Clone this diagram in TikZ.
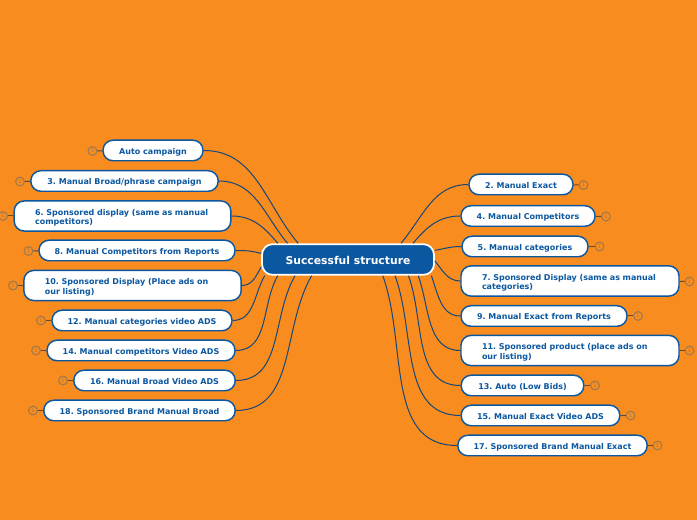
\documentclass[tikz,border=0pt]{standalone}
\usepackage{fontspec}
\setmainfont{DejaVu Sans}
\definecolor{bgorange}{HTML}{F98C1F}
\definecolor{mapblue}{HTML}{0B57A0}
\definecolor{badgegray}{HTML}{A0794C}
\tikzset{
  leaf/.style={draw=mapblue, line width=1.1pt, fill=white, rounded corners=7.5pt, inner sep=0pt, minimum height=15.4pt, text=mapblue, font=\bfseries\frenchspacing\fontsize{6}{7.4}\selectfont, text height=5.9pt, text depth=0.3pt, align=center},
  longleaf/.style={leaf, minimum height=22.6pt, align=left, inner xsep=15.75pt, text width=#1, text height=7.4pt, text depth=8.4pt},
  root/.style={draw=white, line width=1.3pt, fill=mapblue, rounded corners=8pt, inner sep=0pt, minimum width=129pt, minimum height=23pt, text=white, font=\bfseries\fontsize{8.1}{9}\selectfont, text height=7.2pt, text depth=0.2pt},
  badge/.style={circle, draw=badgegray, line width=0.8pt, inner sep=0pt, minimum size=6.6pt, text=badgegray, font=\fontsize{3.8}{4}\selectfont},
  link/.style={draw=mapblue!75!black!90!gray, line width=0.75pt},
  stub/.style={draw=badgegray!60!black, line width=0.75pt}
}
\begin{document}
\begin{tikzpicture}[x=0.75pt,y=-0.75pt]
\fill[bgorange] (0,0) rectangle (697,520);
\useasboundingbox (0,0) rectangle (697,520);
\node[root] (root) at (348,259.5){Successful structure};
% left side
\node[leaf, minimum width=75pt] (tid1) at (153,150.5){Auto campaign};
\node[leaf, minimum width=140.5pt] (tid3) at (124.5,181){3. Manual Broad/phrase campaign};
\node[longleaf=131pt] (tid6) at (122.5,216){6. Sponsored display (same as manual\\[-0.7pt]competitors)};
\node[leaf, minimum width=147pt] (tid8) at (137,250.5){8. Manual Competitors from Reports};
\node[longleaf=131.5pt] (tid10) at (132.5,285.5){10. Sponsored Display (Place ads on\\our listing)};
\node[leaf, minimum width=135pt] (tid12) at (142,320.5){12. Manual categories video ADS};
\node[leaf, minimum width=141pt] (tid14) at (141,350.5){14. Manual competitors Video ADS};
\node[leaf, minimum width=121pt] (tid16) at (154.5,380.5){16. Manual Broad Video ADS};
\node[leaf, minimum width=143.5pt] (tid18) at (139.5,410.5){18. Sponsored Brand Manual Broad};
% right side
\node[leaf, minimum width=78pt] (tid2) at (521,184.5){2. Manual Exact};
\node[leaf, minimum width=100.5pt] (tid4) at (528,216){4. Manual Competitors};
\node[leaf, minimum width=94.5pt] (tid5) at (525,246.5){5. Manual categories};
\node[longleaf=132pt] (tid7) at (570,281){7. Sponsored Display (same as manual\\[-0.7pt]categories)};
\node[leaf, minimum width=124.5pt] (tid9) at (544,316){9. Manual Exact from Reports};
\node[longleaf=132pt] (tid11) at (570,350.5){11. Sponsored product (place ads on\\our listing)};
\node[leaf, minimum width=92pt] (tid13) at (522.5,385.5){13. Auto (Low Bids)};
\node[leaf, minimum width=119pt] (tid15) at (540.5,415.5){15. Manual Exact Video ADS};
\node[leaf, minimum width=142pt] (tid17) at (552.5,445.5){17. Sponsored Brand Manual Exact};
% badges
\node[badge] (bad1) at (92.5,151){1};
\node[badge] (bad3) at (20,181.5){1};
\node[badge] (bad6) at (3,216){1};
\node[badge] (bad8) at (28.5,251){1};
\node[badge] (bad10) at (13,285.5){1};
\node[badge] (bad12) at (41,320.5){1};
\node[badge] (bad14) at (36,350.5){1};
\node[badge] (bad16) at (63,380.5){1};
\node[badge] (bad18) at (33,410.5){1};
\node[badge] (bad2) at (583.5,185){1};
\node[badge] (bad4) at (606,216.5){1};
\node[badge] (bad5) at (599.5,246.5){1};
\node[badge] (bad7) at (689.5,281.5){1};
\node[badge] (bad9) at (638,316){1};
\node[badge] (bad11) at (689.5,350.5){1};
\node[badge] (bad13) at (595,385.5){1};
\node[badge] (bad15) at (630.5,415.5){1};
\node[badge] (bad17) at (657.5,445.5){1};
\draw[stub](tid1) -- (bad1);
\draw[stub](tid3) -- (bad3);
\draw[stub](tid6) -- (bad6);
\draw[stub](tid8) -- (bad8);
\draw[stub](tid10) -- (bad10);
\draw[stub](tid12) -- (bad12);
\draw[stub](tid14) -- (bad14);
\draw[stub](tid16) -- (bad16);
\draw[stub](tid18) -- (bad18);
\draw[stub](tid2) -- (bad2);
\draw[stub](tid4) -- (bad4);
\draw[stub](tid5) -- (bad5);
\draw[stub](tid7) -- (bad7);
\draw[stub](tid9) -- (bad9);
\draw[stub](tid11) -- (bad11);
\draw[stub](tid13) -- (bad13);
\draw[stub](tid15) -- (bad15);
\draw[stub](tid17) -- (bad17);
% links to the root
\draw[link](tid1.east) to[out=0,in=130,looseness=1.0] (root.162);
\draw[link](tid3.east) to[out=0,in=130,looseness=1.0] (root.165);
\draw[link](tid6.east) to[out=0,in=130,looseness=1.0] (root.167.6);
\draw[link](tid8.east) to[out=0,in=165] (root.176);
\draw[link](tid10.east) to[out=0,in=240] (root.185.7);
\draw[link](tid12.east) to[out=0,in=240] (root.191.4);
\draw[link](tid14.east) to[out=0,in=240] (root.193.8);
\draw[link](tid16.east) to[out=0,in=240] (root.197.7);
\draw[link](tid18.east) to[out=0,in=240] (root.204);
\draw[link](tid2.west) to[out=180,in=50] (root.17.9);
\draw[link](tid4.west) to[out=180,in=50] (root.14.5);
\draw[link](tid5.west) to[out=180,in=10] (root.6.3);
\draw[link](tid7.west) to[out=180,in=-50] (root.-1.6);
\draw[link](tid9.west) to[out=180,in=-70] (root.-11);
\draw[link](tid11.west) to[out=180,in=-70] (root.-13);
\draw[link](tid13.west) to[out=180,in=-70] (root.-15.7);
\draw[link](tid15.west) to[out=180,in=-70] (root.-19.2);
\draw[link](tid17.west) to[out=180,in=-70] (root.-25);
\end{tikzpicture}
\end{document}
